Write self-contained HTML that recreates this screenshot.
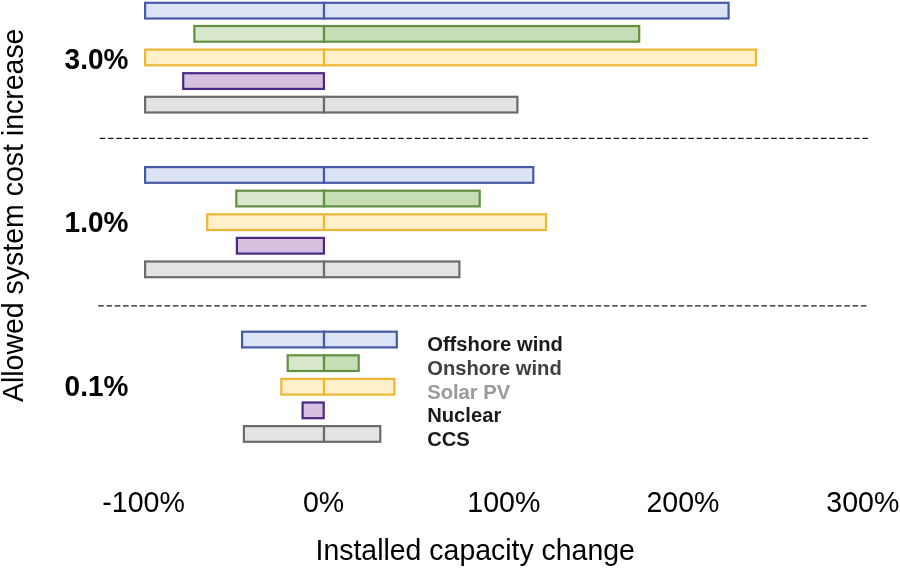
<!DOCTYPE html>
<html><head><meta charset="utf-8"><title>Installed capacity change</title>
<style>
html,body{margin:0;padding:0;background:#fff;}
body{width:900px;height:568px;overflow:hidden;}
svg{display:block;filter:blur(0.35px);}
text{font-family:"Liberation Sans",Arial,Helvetica,sans-serif;}
</style></head><body>
<svg width="900" height="568" viewBox="0 0 900 568">
<rect x="0" y="0" width="900" height="568" fill="#fff"/>
<g stroke-width="2.2">
<rect x="145.10" y="2.80" width="178.90" height="15.70" fill="#DCE3F5" stroke="#4659A6"/>
<rect x="324.00" y="2.80" width="404.60" height="15.70" fill="#DCE3F5" stroke="#4659A6"/>
<rect x="194.40" y="26.00" width="129.60" height="15.70" fill="#D9E8CD" stroke="#628F40"/>
<rect x="324.00" y="26.00" width="315.20" height="15.70" fill="#C6DDB6" stroke="#628F40"/>
<rect x="145.10" y="49.60" width="178.90" height="15.70" fill="#FFF0CA" stroke="#EDB733"/>
<rect x="324.00" y="49.60" width="431.90" height="15.70" fill="#FFF0CA" stroke="#EDB733"/>
<rect x="183.20" y="73.20" width="140.70" height="15.70" fill="#D5C0DF" stroke="#4B2882"/>
<rect x="145.10" y="96.80" width="178.90" height="15.70" fill="#E3E3E3" stroke="#6B6B6B"/>
<rect x="324.00" y="96.80" width="193.40" height="15.70" fill="#E3E3E3" stroke="#6B6B6B"/>
<rect x="145.10" y="167.10" width="178.90" height="15.70" fill="#DCE3F5" stroke="#4659A6"/>
<rect x="324.00" y="167.10" width="209.30" height="15.70" fill="#DCE3F5" stroke="#4659A6"/>
<rect x="236.30" y="190.70" width="87.70" height="15.70" fill="#D9E8CD" stroke="#628F40"/>
<rect x="324.00" y="190.70" width="155.70" height="15.70" fill="#C6DDB6" stroke="#628F40"/>
<rect x="207.20" y="214.30" width="116.80" height="15.70" fill="#FFF0CA" stroke="#EDB733"/>
<rect x="324.00" y="214.30" width="222.00" height="15.70" fill="#FFF0CA" stroke="#EDB733"/>
<rect x="236.90" y="237.90" width="87.00" height="15.70" fill="#D5C0DF" stroke="#4B2882"/>
<rect x="145.10" y="261.50" width="178.90" height="15.70" fill="#E3E3E3" stroke="#6B6B6B"/>
<rect x="324.00" y="261.50" width="135.40" height="15.70" fill="#E3E3E3" stroke="#6B6B6B"/>
<rect x="242.10" y="331.70" width="81.90" height="15.70" fill="#DCE3F5" stroke="#4659A6"/>
<rect x="324.00" y="331.70" width="72.80" height="15.70" fill="#DCE3F5" stroke="#4659A6"/>
<rect x="287.70" y="355.30" width="36.30" height="15.70" fill="#D9E8CD" stroke="#628F40"/>
<rect x="324.00" y="355.30" width="34.70" height="15.70" fill="#C6DDB6" stroke="#628F40"/>
<rect x="281.30" y="378.90" width="42.70" height="15.70" fill="#FFF0CA" stroke="#EDB733"/>
<rect x="324.00" y="378.90" width="70.40" height="15.70" fill="#FFF0CA" stroke="#EDB733"/>
<rect x="302.60" y="402.50" width="21.10" height="15.70" fill="#D5C0DF" stroke="#4B2882"/>
<rect x="243.90" y="426.10" width="80.10" height="15.70" fill="#E3E3E3" stroke="#6B6B6B"/>
<rect x="324.00" y="426.10" width="56.30" height="15.70" fill="#E3E3E3" stroke="#6B6B6B"/>
</g>
<g stroke="#1a1a1a" stroke-width="1.3" stroke-dasharray="5.6 2.69" fill="none">
<line x1="99.7" y1="138.4" x2="868.4" y2="138.4"/>
<line x1="98.2" y1="305.8" x2="866.7" y2="305.8"/>
</g>
<text transform="translate(22.6,215.3) rotate(-90) scale(1,1.045)" text-anchor="middle" font-size="28.5" fill="#000">Allowed system cost increase</text>
<g font-size="28" font-weight="bold" fill="#000">
<text transform="translate(64.6,68.9) scale(1.0,1.08)">3.0%</text>
<text transform="translate(64.6,231.9) scale(1.0,1.08)">1.0%</text>
<text transform="translate(64.6,396.0) scale(1.0,1.08)">0.1%</text>
</g>
<g font-size="28" fill="#000" text-anchor="middle">
<text transform="translate(143.6,511.9) scale(1.02,1.08)">-100%</text>
<text transform="translate(323.6,511.9) scale(1.02,1.08)">0%</text>
<text transform="translate(503.8,511.9) scale(1.02,1.08)">100%</text>
<text transform="translate(683.0,511.9) scale(1.02,1.08)">200%</text>
<text transform="translate(862.8,511.9) scale(1.02,1.08)">300%</text>
</g>
<text transform="translate(475.2,559.8) scale(1.005,1.04)" font-size="28.3" fill="#000" text-anchor="middle">Installed capacity change</text>
<g font-size="20" font-weight="bold">
<text transform="translate(427.2,350.9) scale(1.01,1.035)" fill="#1a1a1a">Offshore wind</text>
<text transform="translate(427.2,374.7) scale(1.01,1.035)" fill="#404040">Onshore wind</text>
<text transform="translate(427.2,398.5) scale(1.01,1.035)" fill="#9a9a9a">Solar PV</text>
<text transform="translate(427.2,422.1) scale(1.01,1.035)" fill="#1a1a1a">Nuclear</text>
<text transform="translate(427.2,445.6) scale(1.01,1.035)" fill="#1a1a1a">CCS</text>
</g>
</svg>
</body></html>
